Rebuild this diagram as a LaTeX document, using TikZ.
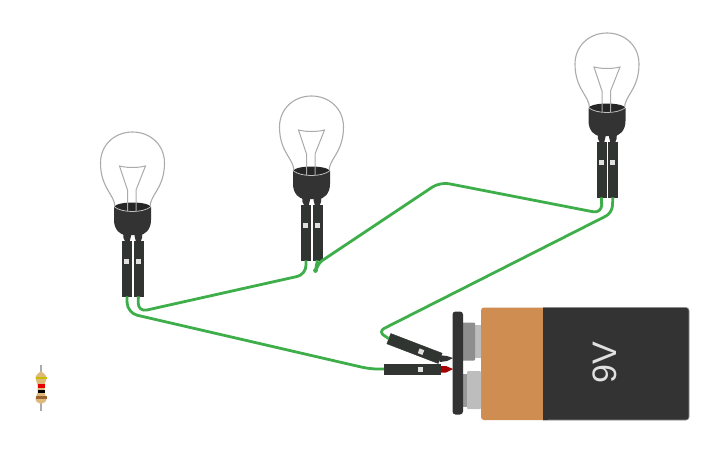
\documentclass[tikz,border=0pt]{standalone}
\usepackage{fontspec}
\setmainfont{Liberation Sans}

\definecolor{wireGreen}{HTML}{3DAE49}
\definecolor{bodyDark}{HTML}{333333}
\definecolor{clipDark}{HTML}{303532}
\definecolor{batteryOrange}{HTML}{D08D51}
\definecolor{terminalGray}{HTML}{8E8E8E}
\definecolor{terminalLight}{HTML}{BDBDBD}
\definecolor{glassGray}{HTML}{ABABAB}
\definecolor{resistorTan}{HTML}{DDB97C}

\tikzset{
  clipBody/.style={draw=black!80, fill=clipDark, line width=0.4, inner sep=0, outer sep=0, minimum width=9, minimum height=55},
  clipMark/.style={fill=black!12, inner sep=0, minimum width=5, minimum height=5},
  wire/.style={wireGreen, line width=2.8, line join=round},
  plainBox/.style={inner sep=0, outer sep=0}
}

\def \glassTop{132}
\def \cupTop{207}
\def \clipY{268.8}
\def \batteryLeft{481}
\def \batteryMid{543}
\def \batteryRight{689}
\def \batteryTop{307.5}
\def \batteryBottom{420}

\begin{document}
\begin{tikzpicture}[x=1pt, y=-1pt]
\useasboundingbox (0,0) rectangle (725,453);

% ---- Bulbs
\foreach \bulbName/\bulbX/\bulbY in {A/132.5/0, B/311.5/-36, C/607/-99} {
  \begin{scope}[shift={(\bulbX,\bulbY)}]
    % ---- Glass
    \draw [glassGray, line width=1.1] (-17.5,\cupTop) .. controls (-17.5,195) and (-32,188) .. (-32,163)
      .. controls (-32,145) and (-18,\glassTop) .. (0,\glassTop)
      .. controls (18,\glassTop) and (32,145) .. (32,163)
      .. controls (32,188) and (17.5,195) .. (17.5,\cupTop);
    % ---- Socket
    \fill [bodyDark] (-9.5,232) -- (-9,238) -- (-7,242) -- (-3,242) -- (-1.5,236) -- (-1.5,232) -- cycle;
    \fill [bodyDark] (2,232) -- (2,236) -- (3.5,242) -- (8,242) -- (9.5,238) -- (10,232) -- cycle;
    \fill [bodyDark] (-18.5,\cupTop) -- (-18.5,220) .. controls (-18.5,230) and (-12,235) .. (-7,235)
      -- (7,235) .. controls (12,235) and (18.5,230) .. (18.5,220) -- (18.5,\cupTop) -- cycle;
    \fill [black!85] (0,\cupTop) ellipse [x radius=18, y radius=4.5];
    \draw [black!25, line width=0.8] (-18,\cupTop) .. controls (-10,213) and (10,213) .. (18,\cupTop);
    % ---- Filament
    \draw [glassGray, line width=1] (-5,211) -- (-5,190) -- (-13,166) .. controls (-5,168) and (5,168) .. (13,166) -- (3.5,190) -- (3.5,211);
    % ---- Clips
    \foreach \sideName/\sideX in {L/-5.6, R/5.9} {
      \node [clipBody] (clip\bulbName\sideName) at (\sideX,\clipY) {};
      \node [clipMark] (mark\bulbName\sideName) at (\sideX,261) {};
    }
  \end{scope}
}

% ---- Battery
\fill [batteryOrange, rounded corners=3] (\batteryLeft,\batteryTop) rectangle (\batteryMid + 5,\batteryBottom);
\filldraw [draw=black!45, fill=bodyDark, line width=0.6] (\batteryMid,\batteryTop) [rounded corners=3] -- (\batteryRight,\batteryTop) -- (\batteryRight,\batteryBottom) [sharp corners] -- (\batteryMid,\batteryBottom);
\fill [bodyDark] (\batteryMid,\batteryTop + 0.3) rectangle (\batteryMid + 5,\batteryBottom - 0.3);
\node [plainBox, rotate=90, text=black!12] (batteryLabel) at (605,363) {\fontsize{34}{34}\selectfont 9V};
% ---- Terminals
\fill [terminalLight] (475,325) rectangle (\batteryLeft,358);
\fill [terminalGray, rounded corners=1] (460,322.5) rectangle (475,360.5);
\fill [terminalLight, rounded corners=1] (467,371) rectangle (\batteryLeft,409);
\fill [terminalGray!90] (460,374) rectangle (467,407);
% ---- Tips
\fill [bodyDark] (438,355) -- (447,356) -- (453,358) -- (447,361) -- (440,362) -- cycle;
\fill [red!65!black] (438,366) -- (446,366) -- (453,369) -- (446,372.5) -- (438,372.5) -- cycle;
\fill [bodyDark, rounded corners=3] (452.5,311.5) rectangle (463,414.5);

% ---- Battery clips
\node [clipBody, minimum width=55, minimum height=11, rotate=-21] (clipUp) at (414.5,348.5) {};
\node [clipMark, rotate=-21] (markUp) at (421,351.7) {};
\node [clipBody, minimum width=56, minimum height=10] (clipLow) at (412,369) {};
\node [clipMark] (markLow) at (420,369) {};

% ---- Resistor
\draw [glassGray, line width=2.6] (41,365) -- (41,411);
\fill [resistorTan] (41,371) .. controls (43,373) and (46.5,375) .. (46.5,378) .. controls (46.5,381) and (44.5,383) .. (44.5,385)
  -- (44.5,393) .. controls (44.5,395) and (46.5,396) .. (46.5,399) .. controls (46.5,402) and (43,403) .. (41,404)
  .. controls (39,403) and (35.5,402) .. (35.5,399) .. controls (35.5,396) and (37.5,395) .. (37.5,393)
  -- (37.5,385) .. controls (37.5,383) and (35.5,381) .. (35.5,378) .. controls (35.5,375) and (39,373) .. (41,371) -- cycle;
\fill [yellow!50!olive] (35.5,376.8) rectangle (46.5,378.8);
\fill [red!90!black] (37.5,384) rectangle (44.5,387.5);
\fill [black] (37.5,389.5) rectangle (44.5,393);
\fill [brown!80!black] (35.5,395.5) rectangle (46.5,399);

% ---- Wires
\coordinate (bendAa) at (127.5,313);
\coordinate (bendAb) at (372,369.5);
\coordinate (bendBa) at (138,312);
\coordinate (bendBb) at (306,274.5);
\coordinate (blobB) at (315.5,270.5);
\coordinate (bendCa) at (440,182);
\coordinate (bendCb) at (602,213.5);
\coordinate (bendDa) at (612,213);
\coordinate (bendDb) at (378,331.5);

\draw [wire, rounded corners=10] (clipAL.south) -- (bendAa) -- (bendAb) -- (clipLow.west);
\draw [wire, rounded corners=9] (clipAR.south) -- (bendBa) -- (bendBb) -- (clipBL.south);
\fill [wireGreen] (blobB) circle [radius=2.4];
\draw [wire, rounded corners=2] (clipBR.south) -- (blobB) -- (320,262) [rounded corners=9] -- (bendCa) -- (bendCb) -- (clipCL.south);
\draw [wire, rounded corners=7] (clipCR.south) -- (bendDa) -- (bendDb) -- (clipUp.west);
\end{tikzpicture}
\end{document}
